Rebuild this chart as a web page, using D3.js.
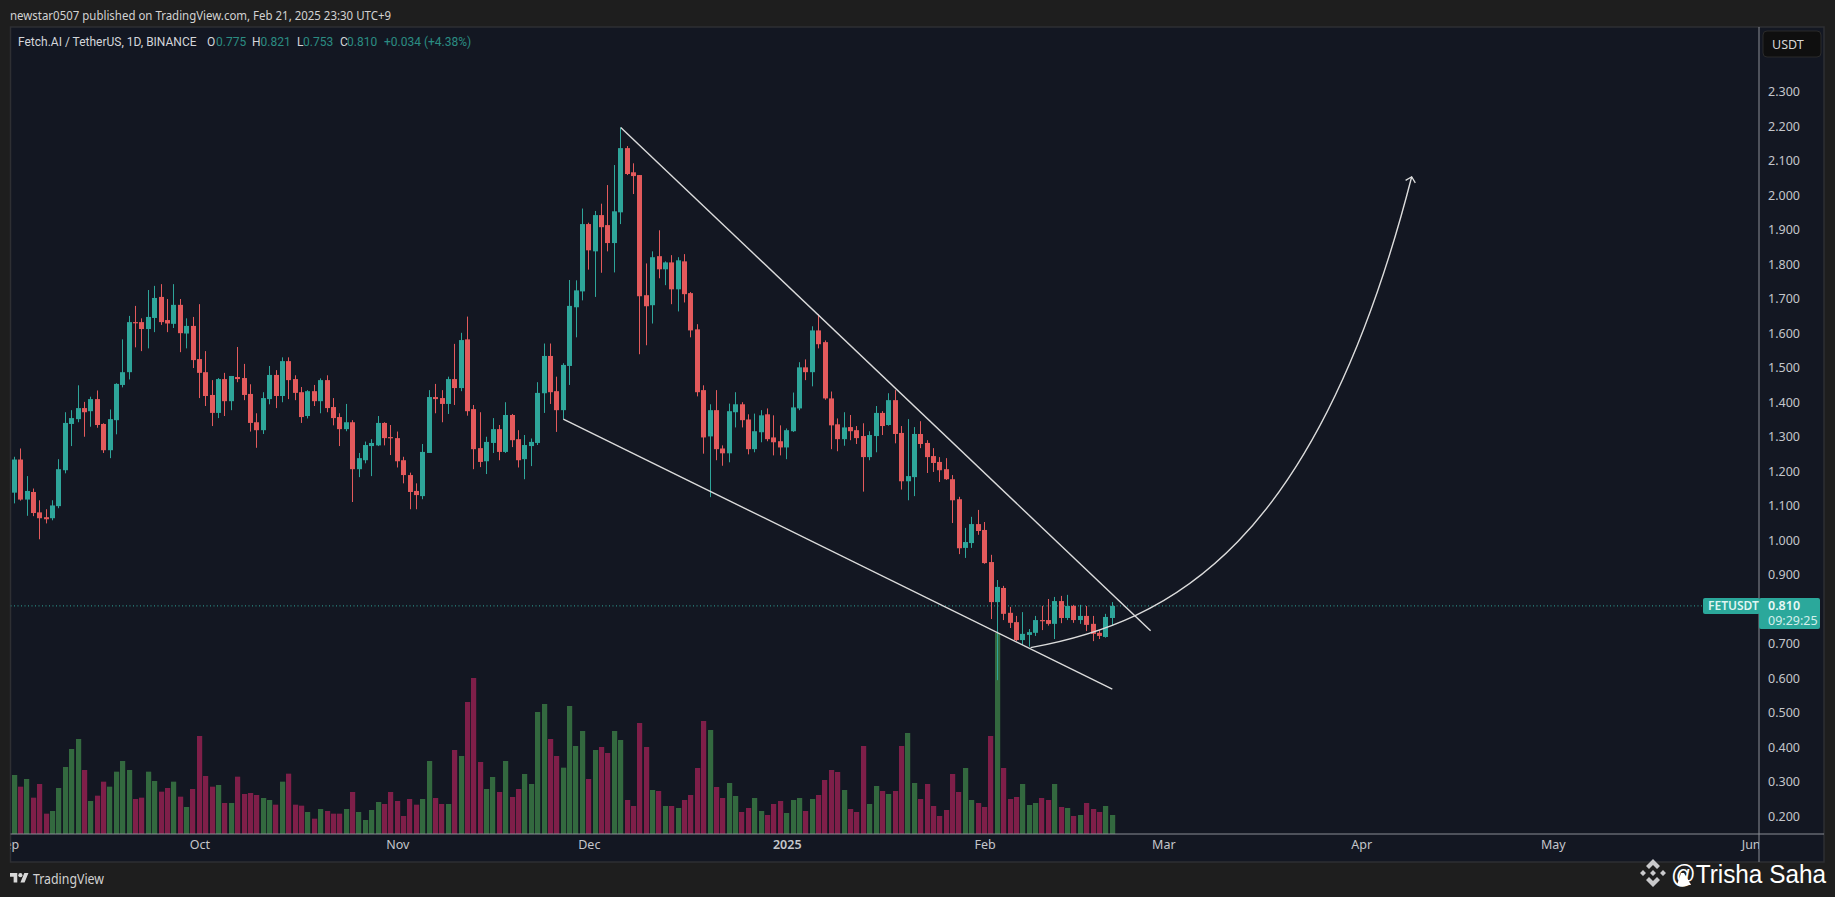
<!DOCTYPE html>
<html>
<head>
<meta charset="utf-8">
<title>FETUSDT</title>
<script src="https://cdn.jsdelivr.net/npm/d3@7"></script>
<style>
  html, body { margin:0; padding:0; background:#1e1e1e; overflow:hidden; }
  text { font-family:"Noto Sans", sans-serif; }
</style>
</head>
<body>
<div id="chart"></div>
<script>
// daily candles, Sep 2 2024 .. Feb 21 2025
const firstDay = new Date(Date.UTC(2024, 8, 2))
const opens = [
  1.138,1.234,1.118,1.140,1.081,1.067,1.064,1.099,1.203,1.337,
  1.351,1.383,1.374,1.409,1.337,1.261,1.348,1.450,1.487,1.632,
  1.632,1.612,1.644,1.705,1.638,1.627,1.682,1.599,1.621,1.525,
  1.487,1.421,1.369,1.467,1.403,1.473,1.470,1.424,1.342,1.319,
  1.409,1.479,1.418,1.519,1.467,1.429,1.360,1.432,1.403,1.464,
  1.386,1.357,1.322,1.342,1.206,1.232,1.273,1.275,1.340,1.299,
  1.296,1.232,1.189,1.143,1.128,1.253,1.415,1.412,1.395,1.467,
  1.441,1.582,1.380,1.267,1.229,1.282,1.322,1.256,1.363,1.293,
  1.235,1.273,1.282,1.426,1.534,1.432,1.377,1.505,1.675,1.721,
  1.916,1.837,1.942,1.913,1.861,1.950,2.136,2.066,2.058,1.710,
  1.681,1.823,1.785,1.805,1.727,1.808,1.716,1.611,1.435,1.301,
  1.377,1.266,1.252,1.371,1.394,1.350,1.264,1.313,1.365,1.298,
  1.287,1.269,1.316,1.382,1.501,1.487,1.608,1.574,1.411,1.336,
  1.293,1.328,1.319,1.302,1.241,1.302,1.369,1.334,1.406,1.311,
  1.171,1.183,1.308,1.282,1.244,1.227,1.206,1.177,1.119,0.978,
  0.992,1.047,1.030,0.937,0.821,0.862,0.790,0.763,0.711,0.726,
  0.732,0.769,0.769,0.758,0.824,0.775,0.810,0.769,0.781,0.758,
  0.732,0.720,0.775]
const highs = [
  1.242,1.266,1.186,1.150,1.116,1.090,1.116,1.235,1.371,1.377,
  1.449,1.401,1.416,1.434,1.339,1.379,1.455,1.582,1.650,1.679,
  1.643,1.725,1.737,1.742,1.699,1.742,1.699,1.643,1.647,1.684,
  1.548,1.464,1.470,1.485,1.476,1.560,1.511,1.452,1.368,1.429,
  1.505,1.493,1.530,1.530,1.478,1.444,1.435,1.450,1.469,1.478,
  1.412,1.368,1.395,1.348,1.253,1.286,1.293,1.360,1.342,1.334,
  1.315,1.242,1.196,1.165,1.279,1.435,1.453,1.435,1.474,1.569,
  1.601,1.648,1.392,1.371,1.300,1.354,1.334,1.400,1.366,1.319,
  1.305,1.295,1.458,1.570,1.570,1.474,1.513,1.754,1.753,1.961,
  1.920,1.954,1.975,2.029,2.087,2.196,2.142,2.092,2.058,1.802,
  1.837,1.898,1.808,1.826,1.820,1.829,1.719,1.626,1.449,1.394,
  1.435,1.275,1.396,1.429,1.400,1.365,1.367,1.377,1.382,1.362,
  1.333,1.324,1.428,1.516,1.524,1.620,1.655,1.579,1.431,1.353,
  1.371,1.363,1.331,1.339,1.316,1.389,1.374,1.426,1.435,1.331,
  1.351,1.328,1.345,1.290,1.267,1.241,1.238,1.189,1.126,1.036,
  1.068,1.088,1.053,0.958,0.885,0.868,0.807,0.781,0.792,0.743,
  0.781,0.810,0.830,0.836,0.839,0.842,0.813,0.813,0.810,0.781,
  0.740,0.787,0.821]
const lows = [
  1.107,1.115,1.071,1.070,1.003,1.049,1.058,1.093,1.194,1.273,
  1.342,1.300,1.329,1.326,1.253,1.238,1.307,1.443,1.466,1.559,
  1.548,1.556,1.603,1.624,1.603,1.615,1.545,1.556,1.499,1.412,
  1.389,1.331,1.354,1.360,1.377,1.458,1.406,1.315,1.268,1.308,
  1.394,1.383,1.400,1.409,1.406,1.340,1.353,1.389,1.368,1.371,
  1.333,1.273,1.316,1.111,1.183,1.223,1.186,1.273,1.275,1.247,
  1.211,1.165,1.090,1.090,1.119,1.253,1.368,1.342,1.366,1.392,
  1.432,1.361,1.206,1.212,1.192,1.253,1.232,1.253,1.270,1.211,
  1.177,1.215,1.276,1.369,1.395,1.314,1.351,1.450,1.588,1.695,
  1.784,1.705,1.775,1.837,1.776,1.916,2.058,2.003,1.539,1.565,
  1.628,1.759,1.739,1.684,1.663,1.689,1.588,1.417,1.251,1.125,
  1.232,1.216,1.226,1.327,1.327,1.249,1.255,1.284,1.287,1.246,
  1.246,1.235,1.314,1.377,1.464,1.446,1.556,1.407,1.264,1.258,
  1.274,1.290,1.279,1.141,1.232,1.255,1.305,1.332,1.281,1.147,
  1.116,1.128,1.267,1.195,1.198,1.169,1.175,1.050,0.960,0.949,
  0.978,1.016,0.932,0.772,0.595,0.769,0.746,0.708,0.697,0.692,
  0.723,0.740,0.753,0.714,0.760,0.769,0.761,0.758,0.737,0.708,
  0.714,0.718,0.753]
const closes = [
  1.234,1.118,1.143,1.079,1.064,1.061,1.101,1.206,1.340,1.354,
  1.383,1.371,1.409,1.334,1.261,1.351,1.453,1.487,1.632,1.630,
  1.612,1.647,1.702,1.632,1.628,1.682,1.600,1.621,1.522,1.485,
  1.418,1.369,1.467,1.403,1.476,1.467,1.421,1.340,1.319,1.412,
  1.479,1.418,1.519,1.464,1.427,1.357,1.432,1.403,1.464,1.383,
  1.354,1.322,1.342,1.206,1.238,1.276,1.282,1.340,1.296,1.297,
  1.229,1.189,1.140,1.131,1.256,1.415,1.409,1.395,1.467,1.441,
  1.580,1.374,1.264,1.227,1.285,1.322,1.256,1.363,1.290,1.232,
  1.276,1.285,1.427,1.534,1.429,1.377,1.508,1.679,1.724,1.916,
  1.840,1.942,1.907,1.861,1.953,2.136,2.061,2.055,1.707,1.678,
  1.820,1.785,1.805,1.727,1.811,1.713,1.608,1.429,1.298,1.377,
  1.264,1.252,1.374,1.394,1.348,1.264,1.316,1.362,1.293,1.284,
  1.269,1.319,1.385,1.501,1.487,1.608,1.568,1.411,1.333,1.293,
  1.327,1.316,1.296,1.241,1.305,1.369,1.331,1.406,1.308,1.171,
  1.186,1.308,1.279,1.241,1.224,1.203,1.177,1.116,0.977,0.995,
  1.047,1.027,0.934,0.821,0.865,0.787,0.761,0.711,0.729,0.734,
  0.769,0.766,0.758,0.824,0.775,0.810,0.769,0.781,0.755,0.729,
  0.723,0.778,0.810]
// volume in millions (no scale shown, only relative heights matter)
const volumes = [
  17.7,14.2,16.5,10.9,15.0,6.1,6.9,13.8,20.1,25.5,
  28.5,19.2,9.9,11.5,15.7,14.2,18.7,21.9,19.2,10.5,
  10.9,18.7,15.9,12.7,13.8,15.7,11.2,8.1,13.5,29.4,
  17.4,14.2,14.7,9.3,9.3,17.2,12.0,12.3,11.7,10.8,
  10.2,8.8,15.7,18.1,8.8,8.5,6.6,4.6,7.5,6.9,
  6.1,6.1,7.5,12.6,6.6,4.2,7.2,9.6,9.0,12.6,
  9.9,5.4,10.5,8.8,10.5,21.9,10.8,9.0,9.0,25.2,
  23.4,39.6,46.8,21.6,13.5,17.1,12.6,21.9,11.1,13.5,
  18.0,15.0,36.6,39.0,28.5,23.4,19.9,38.4,26.4,30.9,
  16.5,25.2,26.1,24.3,30.9,28.2,10.2,8.4,33.3,26.1,
  13.2,12.9,8.4,8.4,7.8,10.2,11.7,19.8,33.9,31.2,
  14.1,10.8,15.3,11.4,6.6,7.8,10.8,6.9,5.7,9.0,
  9.9,6.3,10.2,10.8,6.9,10.5,11.7,16.2,19.2,18.6,
  13.2,7.5,6.6,26.4,9.0,14.4,12.9,12.0,12.9,26.4,
  30.3,15.3,10.5,15.0,8.4,5.4,7.2,18.0,12.6,19.8,
  10.2,9.3,8.1,29.4,60.3,19.8,10.5,11.1,15.0,8.7,
  9.3,10.8,10.2,15.0,8.1,7.8,5.4,5.7,9.3,7.5,
  6.6,8.4,5.7]

const priceTicks = [0.2,0.3,0.4,0.5,0.6,0.7,0.9,1.0,1.1,1.2,1.3,1.4,1.5,1.6,1.7,1.8,1.9,2.0,2.1,2.2,2.3]
const timeTicks = [[2024,8],[2024,9],[2024,10],[2024,11],[2025,0],[2025,1],[2025,2],[2025,3],[2025,4],[2025,5]]
const timeLabels = ["Sep","Oct","Nov","Dec","2025","Feb","Mar","Apr","May","Jun"]
const lastPrice = 0.810

// drawn lines: days after firstDay + price
const upperDays = [95, 178],  upperPrices = [2.196, 0.738]
const lowerDays = [86, 172],  lowerPrices = [1.351, 0.569]
// projected curve: start, two bezier handles, end
const curveDays = [159.2,181.1,204.0,218.9]
const curvePrices = [0.689,0.763,0.980,2.053]

const width = 1835, height = 897
const plot = { left:10.5, top:27, right:1759, bottom:834, outerRight:1824, outerBottom:862 }
const bg = "#131722", outer = "#1e1e1e", border = "#2e2f33", axisLine = "#8b8e95", axisText = "#c4c6cb"
const up = "#2ea59a", down = "#e35a5c", volUp = "#33693f", volDown = "#7f1f49", lineCol = "#dcdcdc"

const candles = opens.map((o,i)=>({
  date: d3.utcDay.offset(firstDay,i), open:o, high:highs[i], low:lows[i], close:closes[i], vol:volumes[i]
}))
const dayAt = d => new Date(+firstDay + d*864e5)

let xScale = d3.scaleUtc().domain([firstDay, d3.utcDay.offset(firstDay,172)]).range([14.3,1112.3])
let yScale = d3.scaleLinear().domain([2.3,0.2]).range([91.5,816.5])
let vScale = d3.scaleLinear().domain([0,60.3]).range([plot.bottom,633])

let svg = d3.select("#chart").append("svg").attr("width",width).attr("height",height).style("display","block")
svg.append("rect").attr("width",width).attr("height",height).attr("fill",outer)

let defs = svg.append("defs")
defs.append("clipPath").attr("id","plotClip").append("rect")
  .attr("x",plot.left).attr("y",plot.top).attr("width",plot.right-plot.left).attr("height",plot.outerBottom-plot.top)
let arrow = defs.append("marker").attr("id","arrowHead").attr("viewBox","-8 -8 16 16").attr("markerUnits","userSpaceOnUse")
  .attr("markerWidth",16).attr("markerHeight",16).attr("orient","auto")
arrow.append("path").attr("d","M-5,-5 L0,0 L-5,5").attr("fill","none").attr("stroke",lineCol).attr("stroke-width",1.3)

// panel
svg.append("rect").attr("x",plot.left).attr("y",plot.top).attr("width",plot.outerRight-plot.left)
  .attr("height",plot.outerBottom-plot.top).attr("fill",bg).attr("stroke",border).attr("stroke-width",1.5)

let g = svg.append("g").attr("clip-path","url(#plotClip)")

// volume
g.append("g").selectAll("rect").data(candles).enter().append("rect")
  .attr("x",d=>Math.round(xScale(d.date)-2.6))
  .attr("width",5.2)
  .attr("y",d=>vScale(d.vol))
  .attr("height",d=>plot.bottom-vScale(d.vol))
  .attr("fill",d=>d.close>=d.open?volUp:volDown)

// last price line
g.append("line").attr("x1",plot.left).attr("x2",plot.right)
  .attr("y1",yScale(lastPrice)).attr("y2",yScale(lastPrice))
  .attr("stroke",up).attr("stroke-width",1).attr("stroke-dasharray","1 2.5")

// candles
let c = g.append("g").selectAll("g").data(candles).enter().append("g")
  .attr("fill",d=>d.close>=d.open?up:down)
c.append("rect")
  .attr("x",d=>Math.round(xScale(d.date)-2.5)+2).attr("width",1)
  .attr("y",d=>yScale(d.high)).attr("height",d=>yScale(d.low)-yScale(d.high))
c.append("rect")
  .attr("x",d=>Math.round(xScale(d.date)-2.5)).attr("width",5)
  .attr("y",d=>yScale(Math.max(d.open,d.close)))
  .attr("height",d=>Math.max(1.2,Math.abs(yScale(d.open)-yScale(d.close))))

// trend lines and projected curve
const straight = d3.line().x(d=>xScale(dayAt(d[0]))).y(d=>yScale(d[1]))
const trendStyle = sel => sel.attr("fill","none").attr("stroke",lineCol).attr("stroke-width",1.4)
g.append("path").attr("d",straight(d3.zip(upperDays,upperPrices))).call(trendStyle)
g.append("path").attr("d",straight(d3.zip(lowerDays,lowerPrices))).call(trendStyle)
const cx = curveDays.map(d=>xScale(dayAt(d))), cy = curvePrices.map(p=>yScale(p))
let curvePath = d3.path()
curvePath.moveTo(cx[0],cy[0])
curvePath.bezierCurveTo(cx[1],cy[1],cx[2],cy[2],cx[3],cy[3])
g.append("path").attr("d",curvePath.toString()).call(trendStyle).attr("marker-end","url(#arrowHead)")

// axis lines
svg.append("line").attr("x1",plot.right).attr("x2",plot.right).attr("y1",plot.top).attr("y2",plot.outerBottom)
  .attr("stroke",axisLine).attr("stroke-width",1)
svg.append("line").attr("x1",plot.left).attr("x2",plot.outerRight).attr("y1",plot.bottom).attr("y2",plot.bottom)
  .attr("stroke",axisLine).attr("stroke-width",1)

// time axis, clipped so that Sep and Jun are cut at the panel edges
let xAxis = d3.axisBottom(xScale)
  .tickValues(timeTicks.map(d=>new Date(Date.UTC(d[0],d[1],1))))
  .tickFormat((d,i)=>timeLabels[i]).tickSize(0).tickPadding(6)
let xg = svg.append("g").attr("clip-path","url(#plotClip)").append("g")
  .attr("transform",`translate(0,${plot.bottom})`).call(xAxis)
xg.select(".domain").remove()
xg.selectAll("text").attr("fill",axisText).style("font-family",'"Noto Sans", sans-serif').attr("font-size",12.5)
  .attr("font-weight",(d,i)=>timeLabels[i]==="2025"?600:400)

// price axis
let yAxis = d3.axisRight(yScale).tickValues(priceTicks).tickFormat(d3.format(".3f")).tickSize(0).tickPadding(9)
let yg = svg.append("g").attr("transform",`translate(${plot.right},0)`).call(yAxis)
yg.select(".domain").remove()
yg.selectAll("text").attr("fill",axisText).style("font-family",'"Noto Sans", sans-serif').attr("font-size",12.5)

// USDT button
svg.append("rect").attr("x",1763).attr("y",31).attr("width",58).attr("height",26).attr("rx",4)
  .attr("fill","#0f0f0f").attr("stroke","#2a2a2a")
svg.append("text").attr("x",1772).attr("y",49).attr("fill","#d6d6d6").attr("font-size",12.5).text("USDT")

// last price labels
const priceBoxCol = "#2ba89b"
let ly = yScale(lastPrice)
svg.append("rect").attr("x",1703).attr("y",ly-8).attr("width",57).attr("height",16).attr("rx",2).attr("fill",priceBoxCol)
svg.append("rect").attr("x",plot.right).attr("y",ly-8).attr("width",61).attr("height",31).attr("rx",2).attr("fill",priceBoxCol)
svg.append("text").attr("x",1708).attr("y",ly+4.5).attr("fill","#dff5f2").attr("font-size",12).attr("font-weight",600).text("FETUSDT")
svg.append("text").attr("x",1768).attr("y",ly+4.5).attr("fill","#e8f8f6").attr("font-size",12.5).attr("font-weight",600).text("0.810")
svg.append("text").attr("x",1768).attr("y",ly+19).attr("fill","#d4efec").attr("font-size",12.5).text("09:29:25")

// header
svg.append("text").attr("x",10).attr("y",19.5).attr("fill","#d2d2d2").attr("font-size",12.5)
  .attr("textLength",381).attr("lengthAdjust","spacingAndGlyphs")
  .text("newstar0507 published on TradingView.com, Feb 21, 2025 23:30 UTC+9")

// legend, a single text with positioned spans
const legendTeal = "#2b8d83", legendWhite = "#d4d6da"
const legendParts = [
  [18,"Fetch.AI / TetherUS, 1D, BINANCE",legendWhite],
  [207,"O",legendWhite],[216,"0.775",legendTeal],
  [252,"H",legendWhite],[260.5,"0.821",legendTeal],
  [297,"L",legendWhite],[303,"0.753",legendTeal],
  [340,"C",legendWhite],[347,"0.810",legendTeal],
  [384,"+0.034 (+4.38%)",legendTeal]
]
let legend = svg.append("text").attr("y",46).attr("font-size",12).style("font-family","Roboto, sans-serif")
legendParts.forEach(p=>{
  legend.append("tspan").attr("x",p[0]).attr("fill",p[2]).text(p[1])
})

// TradingView mark
let logo = svg.append("g").attr("transform","translate(10,871) scale(0.52)").attr("fill","#d8d8d8")
logo.append("path").attr("d","M14 22H7V11H0V4h14v18zM28 22h-8l7.5-18h8L28 22z")
logo.append("circle").attr("cx",20).attr("cy",8).attr("r",4)
svg.append("text").attr("x",33).attr("y",884).attr("fill","#d2d2d2").attr("font-size",14)
  .attr("textLength",71).attr("lengthAdjust","spacingAndGlyphs").text("TradingView")

// watermark
let mark = svg.append("g").attr("transform","translate(1653,873)").attr("fill","#c9c9cb")
mark.append("path").attr("d","M0,-14 L7,-7 L4,-4 L0,-8 L-4,-4 L-7,-7 Z")
mark.append("path").attr("d","M0,14 L7,7 L4,4 L0,8 L-4,4 L-7,7 Z")
mark.append("path").attr("d","M-13,0 L-10,-3 L-7,0 L-10,3 Z M13,0 L10,-3 L7,0 L10,3 Z M0,-3 L3,0 L0,3 L-3,0 Z")
svg.append("text").attr("x",1671).attr("y",883).attr("fill","#ffffff").attr("font-size",25)
  .style("font-family",'"Liberation Sans", sans-serif')
  .attr("textLength",155).attr("lengthAdjust","spacingAndGlyphs").text("@Trisha Saha")
svg.append("path").attr("d","M1677,885 L1681,873 L1684,873 L1691,885 Z").attr("fill","#ffffff")
</script>
</body>
</html>
